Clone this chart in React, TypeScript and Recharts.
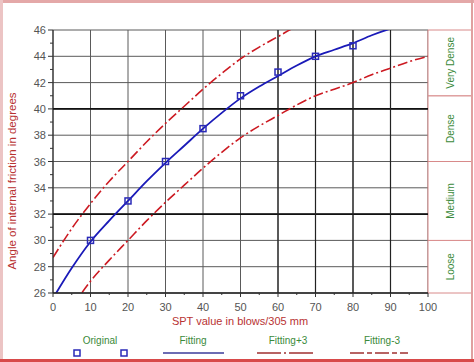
import React from 'react';
import {
  ComposedChart, Line, Scatter, XAxis, YAxis, CartesianGrid, ReferenceLine, ReferenceArea,
} from 'recharts';

const xValues = [0, 5, 10, 15, 20, 25, 30, 35, 40, 45, 50, 55, 60, 65, 70, 75, 80, 85, 90, 95, 100];
const fittingValues = [25.6, 27.9, 29.9, 31.5, 33.0, 34.5, 35.9, 37.2, 38.5, 39.7, 40.8, 41.7, 42.5, 43.3, 44.0, 44.5, 45.0, 45.6, 46.1, 46.5, 46.9];
const fittingPlus3 = [28.7, 30.9, 32.8, 34.5, 36.0, 37.5, 38.9, 40.2, 41.5, 42.7, 43.8, 44.7, 45.5, 46.3, 47.0, null, null, null, null, null, null];
const fittingMinus3 = [null, 24.9, 26.9, 28.5, 30.0, 31.5, 32.9, 34.2, 35.5, 36.7, 37.8, 38.7, 39.5, 40.3, 41.0, 41.5, 42.0, 42.6, 43.1, 43.6, 44.0];

const originalX = [10, 20, 30, 40, 50, 60, 70, 80];
const originalY = [30, 33, 36, 38.5, 41, 42.8, 44, 44.8];

const yTicks = [26, 27, 28, 29, 30, 31, 32, 33, 34, 35, 36, 37, 38, 39, 40, 41, 42, 43, 44, 45, 46];
const xTicks = [0, 5, 10, 15, 20, 25, 30, 35, 40, 45, 50, 55, 60, 65, 70, 75, 80, 85, 90, 95, 100];
const yGrid = [26, 28, 30, 32, 34, 36, 38, 40, 42, 44, 46];
const xGrid = [0, 10, 20, 30, 40, 50, 60, 70, 80, 90, 100];
const darkHorizontal = [32, 40];
const darkVertical = [60, 70, 80, 90];

const bandNames = ['Loose', 'Medium', 'Dense', 'Very Dense'];
const bandFrom = [26, 30, 36, 41];
const bandTo = [30, 36, 41, 46];

const lineData = xValues.map((x, i) => ({
  x,
  fit: fittingValues[i],
  up: fittingPlus3[i],
  low: fittingMinus3[i],
}));
const scatterData = originalX.map((x, i) => ({ x, y: originalY[i] }));

const FONT = '"Liberation Sans", Arial, sans-serif';
const GREEN = '#3a8a3a';
const TITLE_RED = '#b83232';

const YTick = (props: any) => {
  const { x, y, payload } = props;
  const v = payload.value;
  const major = v % 2 === 0;
  return (
    <g>
      <line x1={x - (major ? 5 : 3)} x2={x} y1={y} y2={y} stroke="#333" />
      {major && (
        <text x={x - 7} y={y} dy={4} textAnchor="end" fontSize={11} fill="#555" fontFamily={FONT}>
          {v}
        </text>
      )}
    </g>
  );
};

const XTick = (props: any) => {
  const { x, y, payload } = props;
  const v = payload.value;
  const major = v % 10 === 0;
  return (
    <g>
      <line x1={x} x2={x} y1={y} y2={y + (major ? 4 : 2)} stroke="#333" />
      {major && (
        <text x={x} y={y + 14} dy={4} textAnchor="middle" fontSize={11} fill="#555" fontFamily={FONT}>
          {v}
        </text>
      )}
    </g>
  );
};

const Square = (props: any) => {
  const { cx, cy } = props;
  return <rect x={cx - 3} y={cy - 3} width={6} height={6} fill="none" stroke="#2a2ab8" strokeWidth={1.5} />;
};

const BandLabel = (name: string) => (props: any) => {
  const vb = props.viewBox || {};
  const cx = vb.x + vb.width / 2;
  const cy = vb.y + vb.height / 2;
  return (
    <text
      x={cx}
      y={cy}
      transform={`rotate(-90 ${cx} ${cy})`}
      textAnchor="middle"
      dy={4}
      fontSize={10}
      fill={GREEN}
      fontFamily={FONT}
    >
      {name}
    </text>
  );
};

export default function App() {
  return (
    <div style={{ position: 'absolute', left: 0, top: 0, width: 474, height: 362, background: '#fff', overflow: 'hidden', fontFamily: FONT }}>
      <ComposedChart
        width={474}
        height={362}
        data={lineData}
        margin={{ top: 30, right: 46, bottom: 49, left: 8 }}
      >
        <CartesianGrid
          horizontalValues={yGrid}
          verticalValues={xGrid}
          stroke="#5a5a5a"
          strokeWidth={1}
        />
        {darkHorizontal.map((v) => (
          <ReferenceLine key={'h' + v} y={v} stroke="#111" strokeWidth={1.6} />
        ))}
        {darkVertical.map((v) => (
          <ReferenceLine key={'v' + v} x={v} stroke="#222" strokeWidth={1.2} />
        ))}
        {bandNames.map((name, i) => (
          <ReferenceArea
            key={name}
            x1={100}
            x2={111.7}
            y1={bandFrom[i]}
            y2={bandTo[i]}
            ifOverflow="visible"
            fill="#fff"
            fillOpacity={1}
            stroke="#d88a8a"
            strokeWidth={1}
            label={BandLabel(name)}
          />
        ))}
        <XAxis
          type="number"
          dataKey="x"
          domain={[0, 100]}
          ticks={xTicks}
          interval={0}
          tickSize={0}
          tickMargin={0}
          tick={<XTick />}
          tickLine={false}
          height={20}
          stroke="#222"
          axisLine={{ stroke: '#222', strokeWidth: 1.5 }}
          allowDataOverflow
        />
        <YAxis
          type="number"
          domain={[26, 46]}
          ticks={yTicks}
          interval={0}
          tickSize={0}
          tickMargin={0}
          tick={<YTick />}
          tickLine={false}
          width={45}
          axisLine={{ stroke: '#222', strokeWidth: 1 }}
          allowDataOverflow
        />
        <Line
          type="monotone"
          dataKey="up"
          stroke="#cc1a22"
          strokeWidth={1.6}
          strokeDasharray="10 3 2 3"
          dot={false}
          isAnimationActive={false}
        />
        <Line
          type="monotone"
          dataKey="low"
          stroke="#cc1a22"
          strokeWidth={1.6}
          strokeDasharray="10 3 2 3"
          dot={false}
          isAnimationActive={false}
        />
        <Line
          type="monotone"
          dataKey="fit"
          stroke="#1a1ab8"
          strokeWidth={1.8}
          dot={false}
          isAnimationActive={false}
        />
        <Scatter
          data={scatterData}
          dataKey="y"
          shape={<Square />}
          isAnimationActive={false}
        />
      </ComposedChart>

      {/* Axis titles */}
      <div style={{ position: 'absolute', left: 140, width: 200, top: 315, textAlign: 'center', fontSize: 11, color: TITLE_RED }}>
        SPT value in blows/305 mm
      </div>
      <div
        style={{
          position: 'absolute', left: 12, top: 181, width: 240, height: 14, marginLeft: -120, marginTop: -7,
          transform: 'rotate(-90deg)', textAlign: 'center', fontSize: 11.5, lineHeight: '14px', color: TITLE_RED,
        }}
      >
        Angle of internal friction in degrees
      </div>

      {/* Legend */}
      <div style={{ position: 'absolute', left: 60, width: 80, top: 335, textAlign: 'center', fontSize: 10, color: GREEN }}>Original</div>
      <div style={{ position: 'absolute', left: 153, width: 80, top: 335, textAlign: 'center', fontSize: 10, color: GREEN }}>Fitting</div>
      <div style={{ position: 'absolute', left: 248, width: 80, top: 335, textAlign: 'center', fontSize: 10, color: GREEN }}>Fitting+3</div>
      <div style={{ position: 'absolute', left: 342, width: 80, top: 335, textAlign: 'center', fontSize: 10, color: GREEN }}>Fitting-3</div>
      <svg style={{ position: 'absolute', left: 0, top: 0 }} width={474} height={362}>
        <rect x={74} y={350} width={6} height={6} fill="none" stroke="#2a2ab8" strokeWidth={1.5} />
        <rect x={121} y={350} width={6} height={6} fill="none" stroke="#2a2ab8" strokeWidth={1.5} />
        <line x1={163} x2={224} y1={353} y2={353} stroke="#3b3b9a" strokeWidth={1.5} />
        <line x1={257} x2={316} y1={353} y2={353} stroke="#a03030" strokeWidth={1.5} strokeDasharray="24 3 2 3" />
        <line x1={350} x2={408} y1={353} y2={353} stroke="#a03030" strokeWidth={1.5} strokeDasharray="14 3 5 3" />
        {/* frame */}
        <rect x={0} y={0} width={474} height={3} fill="#e4a8a8" />
        <rect x={0} y={0} width={3} height={362} fill="#ecc4c4" />
        <rect x={471} y={0} width={2} height={362} fill="#e0a0a0" />
        <rect x={0} y={359} width={474} height={3} fill="#d84a4a" />
      </svg>
    </div>
  );
}
